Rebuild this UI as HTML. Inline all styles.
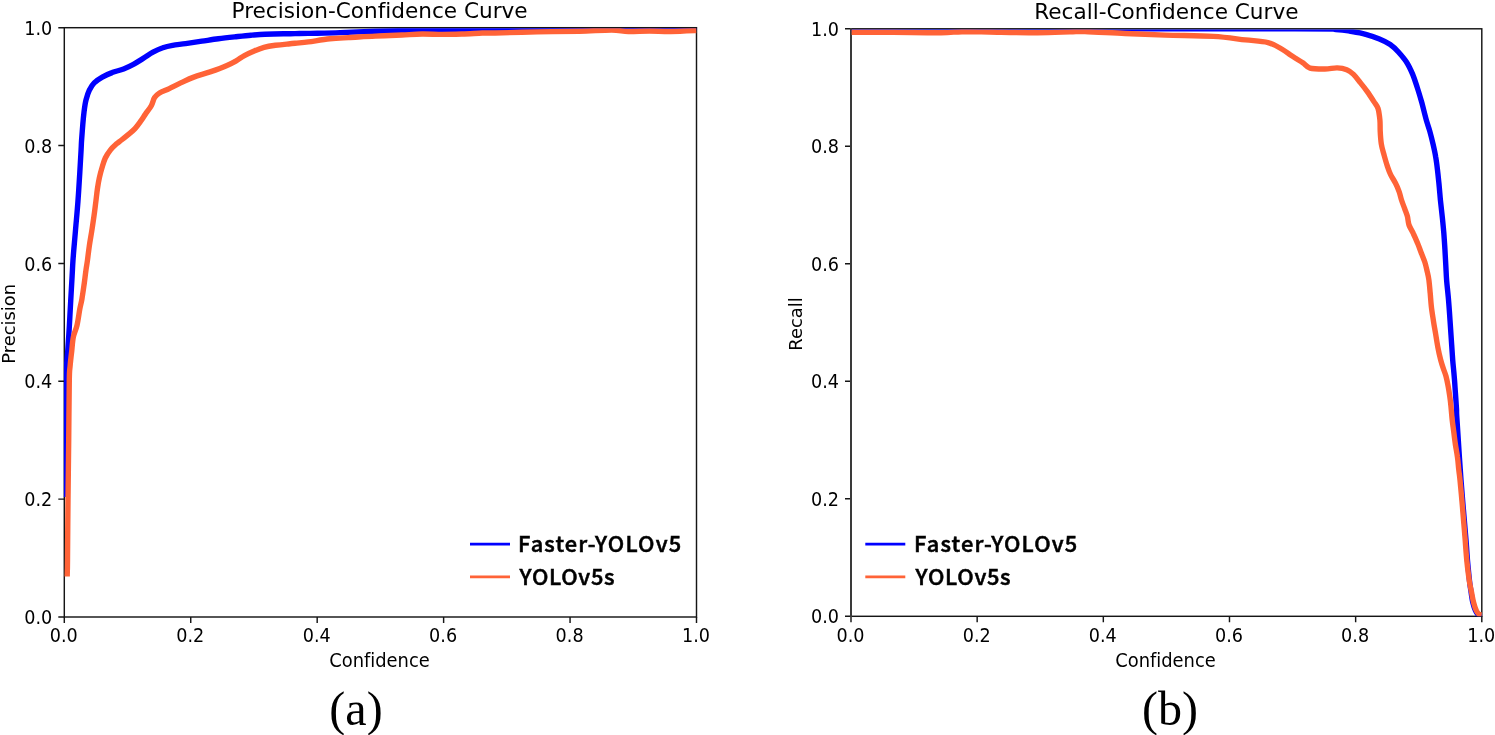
<!DOCTYPE html>
<html lang="en"><head><meta charset="utf-8"><title>Precision / Recall - Confidence curves</title>
<style>
html,body{margin:0;padding:0;background:#fff;}
body{width:1495px;height:735px;overflow:hidden;position:relative;}
svg{position:absolute;left:0;top:0;display:block;}
.mp{font-family:"DejaVu Sans","Liberation Sans",sans-serif;fill:#000;font-variant-ligatures:none;font-feature-settings:"liga" 0,"clig" 0;}
.tk{font-size:17.6px;}
.al{font-size:17.9px;}
.tt{font-size:21.6px;}
.lg{font-family:"Noto Sans CJK SC","Liberation Sans",sans-serif;font-weight:500;font-size:21.8px;letter-spacing:1.15px;fill:#000;stroke:#000;stroke-width:0.55px;paint-order:stroke;}
.cap{font-family:"Liberation Serif","DejaVu Serif",serif;font-size:48px;fill:#000;}
.curve{fill:none;stroke-width:5.4;stroke-linejoin:round;stroke-linecap:butt;}
</style></head><body>
<svg width="1495" height="735" viewBox="0 0 1495 735">
<rect width="1495" height="735" fill="#fff"/>
<defs><clipPath id="cpa"><rect x="63.9" y="28.3" width="632.6" height="588.7"/></clipPath></defs>
<g id="pa">
<path d="M64.30,617.0v6.0M64.3,617.00h-6.0M190.74,617.0v6.0M64.3,499.14h-6.0M317.18,617.0v6.0M64.3,381.28h-6.0M443.62,617.0v6.0M64.3,263.42h-6.0M570.06,617.0v6.0M64.3,145.56h-6.0M696.50,617.0v6.0M64.3,27.70h-6.0" stroke="#151515" stroke-width="1.44" fill="none"/>
<rect x="64.3" y="27.7" width="632.2" height="589.3" fill="none" stroke="#151515" stroke-width="1.44"/>
<g clip-path="url(#cpa)">
<path class="curve" stroke="#0000ff" d="M64.6,497.0C64.6,487.5 64.7,459.5 64.9,440.0C65.1,420.5 65.1,394.8 65.6,380.0C66.1,365.2 67.1,360.5 67.7,351.4C68.3,342.3 68.9,334.0 69.4,325.3C69.9,316.6 70.3,307.4 70.8,299.2C71.2,291.0 71.7,282.8 72.1,276.3C72.5,269.8 72.5,267.5 73.0,260.0C73.5,252.5 74.6,241.1 75.4,231.4C76.2,221.7 77.2,211.8 77.9,202.0C78.6,192.2 79.3,181.4 79.8,172.7C80.3,164.0 80.8,155.2 81.1,149.8C81.4,144.4 81.3,144.2 81.6,140.0C81.9,135.8 82.4,129.3 82.8,124.5C83.2,119.7 83.6,115.5 84.1,111.4C84.6,107.3 85.1,103.5 86.0,100.0C86.9,96.5 87.9,93.0 89.3,90.2C90.7,87.4 92.0,85.1 94.2,82.9C96.4,80.7 99.3,78.8 102.3,77.1C105.3,75.4 108.5,73.9 112.1,72.6C115.6,71.2 120.0,70.4 123.6,69.0C127.1,67.6 130.1,66.2 133.4,64.4C136.7,62.6 139.9,60.4 143.2,58.4C146.5,56.4 149.7,54.0 153.0,52.2C156.3,50.4 159.5,48.9 162.8,47.8C166.1,46.6 168.8,46.0 172.6,45.3C176.4,44.6 180.7,44.4 185.6,43.7C190.5,43.0 196.4,42.0 201.9,41.2C207.4,40.4 212.9,39.5 218.3,38.8C223.8,38.1 229.2,37.5 234.6,36.9C240.0,36.3 245.8,35.6 250.9,35.2C256.0,34.8 259.6,34.5 265.0,34.3C270.4,34.1 278.6,33.9 283.6,33.8C288.6,33.7 290.9,33.7 295.0,33.6C299.1,33.5 300.9,33.6 308.4,33.4C315.9,33.2 328.9,33.0 340.0,32.6C351.1,32.2 362.7,31.7 375.3,31.3C387.9,30.9 402.0,30.6 415.4,30.3C428.8,30.1 442.2,30.0 455.5,29.8C468.8,29.6 477.6,29.5 495.0,29.3C512.4,29.1 539.2,28.6 560.0,28.4C580.8,28.2 597.2,28.2 620.0,28.1C642.8,28.0 683.8,27.9 696.5,27.9"/>
<path class="curve" stroke="#ff6337" d="M67.2,576.5C67.2,573.8 67.4,572.8 67.5,560.0C67.6,547.2 67.8,520.0 68.0,500.0C68.2,480.0 68.5,460.0 68.7,440.0C68.9,420.0 69.1,392.3 69.3,380.0C69.5,367.7 69.7,370.9 70.1,366.1C70.5,361.3 71.1,356.3 71.7,351.4C72.2,346.5 72.5,341.0 73.4,336.7C74.3,332.4 75.9,329.9 77.0,325.3C78.1,320.7 79.0,313.4 79.8,309.0C80.6,304.6 81.2,303.3 81.9,299.2C82.6,295.1 83.4,289.4 84.1,284.5C84.8,279.6 85.4,273.9 86.0,269.8C86.6,265.7 87.0,263.9 87.5,260.0C88.0,256.1 88.6,250.9 89.3,246.1C90.0,241.3 90.9,236.3 91.7,231.4C92.5,226.5 93.2,221.6 93.9,216.7C94.6,211.8 95.2,206.6 95.8,202.0C96.4,197.4 96.8,193.1 97.4,189.0C98.0,184.9 98.6,181.1 99.4,177.6C100.2,174.1 101.0,171.1 102.0,167.8C103.0,164.5 103.9,161.0 105.3,158.0C106.7,155.0 108.7,152.1 110.5,149.8C112.3,147.5 114.4,145.7 116.2,144.1C118.0,142.5 119.5,141.6 121.5,140.0C123.5,138.4 126.2,136.2 128.5,134.3C130.8,132.4 133.0,130.8 135.0,128.6C137.0,126.4 138.9,123.7 140.7,121.2C142.5,118.8 143.8,116.5 145.6,113.9C147.4,111.3 149.8,108.4 151.3,105.7C152.8,103.0 153.2,99.7 154.6,97.6C156.0,95.5 157.1,94.5 159.5,93.0C161.9,91.5 165.8,90.3 169.3,88.6C172.8,86.9 176.6,84.8 180.7,82.9C184.8,81.0 188.9,78.9 193.8,77.1C198.7,75.3 204.7,73.8 210.1,71.9C215.5,70.0 222.1,67.6 226.4,65.7C230.8,63.9 233.2,62.5 236.2,60.8C239.2,59.1 241.4,57.2 244.4,55.6C247.4,54.0 250.9,52.4 254.2,51.0C257.5,49.6 260.5,48.4 264.0,47.4C267.5,46.4 271.6,45.8 275.4,45.3C279.2,44.8 283.5,44.4 286.8,44.1C290.1,43.8 291.4,43.7 295.0,43.3C298.6,42.9 302.6,42.6 308.4,41.9C314.2,41.1 323.1,39.5 329.8,38.8C336.5,38.1 340.9,38.0 348.5,37.6C356.1,37.2 366.4,36.5 375.3,36.1C384.2,35.7 394.2,35.4 402.0,35.0C409.8,34.6 415.3,34.1 422.0,34.0C428.7,33.9 435.5,34.4 442.2,34.4C448.9,34.4 455.5,34.2 462.2,34.0C468.9,33.8 476.8,33.2 482.3,33.0C487.8,32.8 485.9,33.2 495.0,33.0C504.1,32.8 523.0,32.2 537.0,31.9C551.0,31.6 566.9,31.5 579.3,31.2C591.7,30.9 603.4,30.1 611.6,30.1C619.8,30.2 622.1,31.4 628.4,31.5C634.7,31.6 642.5,31.0 649.5,31.0C656.5,31.0 662.8,31.6 670.6,31.5C678.4,31.4 692.2,30.7 696.5,30.5"/>
</g>
<text class="mp tk" transform="translate(63.8,641.8) scale(1,1.06)" text-anchor="middle">0.0</text>
<text class="mp tk" transform="translate(52.3,624.1) scale(1,1.06)" text-anchor="end">0.0</text>
<text class="mp tk" transform="translate(190.2,641.8) scale(1,1.06)" text-anchor="middle">0.2</text>
<text class="mp tk" transform="translate(52.3,506.2) scale(1,1.06)" text-anchor="end">0.2</text>
<text class="mp tk" transform="translate(316.7,641.8) scale(1,1.06)" text-anchor="middle">0.4</text>
<text class="mp tk" transform="translate(52.3,388.4) scale(1,1.06)" text-anchor="end">0.4</text>
<text class="mp tk" transform="translate(443.1,641.8) scale(1,1.06)" text-anchor="middle">0.6</text>
<text class="mp tk" transform="translate(52.3,270.5) scale(1,1.06)" text-anchor="end">0.6</text>
<text class="mp tk" transform="translate(569.6,641.8) scale(1,1.06)" text-anchor="middle">0.8</text>
<text class="mp tk" transform="translate(52.3,152.7) scale(1,1.06)" text-anchor="end">0.8</text>
<text class="mp tk" transform="translate(696.0,641.8) scale(1,1.06)" text-anchor="middle">1.0</text>
<text class="mp tk" transform="translate(52.3,34.8) scale(1,1.06)" text-anchor="end">1.0</text>
<text class="mp al" transform="translate(379.5,666.7) scale(1,1.04)" text-anchor="middle">Confidence</text>
<text class="mp al" transform="translate(14.7,323.9) rotate(-90)" text-anchor="middle">Precision</text>
<text class="mp tt" x="379.6" y="17.9" text-anchor="middle">Precision-Confidence Curve</text>
<path d="M470,544.2H510" stroke="#0000ff" stroke-width="2.7"/>
<path d="M470,576.9H510" stroke="#ff6337" stroke-width="2.7"/>
<text class="lg" x="518.0" y="552.2">Faster-YOLOv5</text>
<text class="lg" x="519.5" y="584.9" style="letter-spacing:0.7px">YOLOv5s</text>
</g>
<defs><clipPath id="cpb"><rect x="851.6" y="29.4" width="630.2" height="586.9"/></clipPath></defs>
<g id="pb">
<path d="M851.00,616.3v6.0M851.0,616.30h-6.0M977.16,616.3v6.0M851.0,498.80h-6.0M1103.32,616.3v6.0M851.0,381.30h-6.0M1229.48,616.3v6.0M851.0,263.80h-6.0M1355.64,616.3v6.0M851.0,146.30h-6.0M1481.80,616.3v6.0M851.0,28.80h-6.0" stroke="#151515" stroke-width="1.44" fill="none"/>
<rect x="851.0" y="28.8" width="630.8" height="587.5" fill="none" stroke="#151515" stroke-width="1.44"/>
<path d="M851.0,28.1V617.0" stroke="#3a3a3a" stroke-width="2" fill="none"/>
<g clip-path="url(#cpb)">
<path class="curve" stroke="#0000ff" d="M851.0,28.9C925.0,28.9 1214.2,28.8 1295.0,28.9C1375.8,29.0 1326.3,29.1 1335.8,29.5C1345.3,29.9 1347.1,30.8 1352.1,31.6C1357.1,32.4 1361.2,33.1 1365.7,34.3C1370.2,35.5 1375.3,37.3 1379.4,39.0C1383.5,40.7 1387.0,42.3 1390.2,44.5C1393.4,46.7 1395.7,49.0 1398.4,52.0C1401.1,55.0 1404.2,58.5 1406.6,62.2C1409.0,65.9 1410.9,70.1 1412.7,74.4C1414.5,78.7 1415.9,83.5 1417.4,88.0C1418.9,92.5 1420.0,96.3 1421.5,101.6C1423.0,106.9 1424.9,115.1 1426.3,120.0C1427.7,124.9 1428.6,126.9 1429.7,130.9C1430.8,134.9 1432.0,139.6 1433.0,143.9C1434.0,148.2 1435.0,152.6 1435.7,157.0C1436.5,161.4 1437.0,165.8 1437.5,170.1C1438.0,174.4 1438.4,178.1 1438.9,183.1C1439.4,188.1 1439.9,194.5 1440.4,200.0C1441.0,205.5 1441.6,210.9 1442.2,216.3C1442.8,221.8 1443.3,227.2 1443.8,232.7C1444.2,238.1 1444.6,243.6 1444.9,249.0C1445.2,254.4 1445.5,260.1 1445.8,265.3C1446.1,270.5 1446.2,274.8 1446.6,280.0C1447.0,285.2 1447.7,290.9 1448.2,296.3C1448.7,301.8 1449.1,307.2 1449.5,312.7C1449.9,318.1 1450.2,323.6 1450.6,329.0C1451.0,334.4 1451.3,340.1 1451.7,345.3C1452.1,350.5 1452.3,354.8 1452.7,360.0C1453.1,365.2 1453.8,370.9 1454.2,376.3C1454.7,381.8 1455.0,387.2 1455.4,392.7C1455.8,398.1 1456.2,404.4 1456.5,409.0C1456.8,413.6 1456.2,408.2 1457.0,420.0C1457.8,431.8 1459.5,460.0 1461.0,480.0C1462.5,500.0 1464.9,526.6 1466.0,540.0C1467.1,553.4 1466.9,553.6 1467.5,560.4C1468.1,567.2 1469.0,575.9 1469.5,580.8C1470.0,585.7 1470.2,586.4 1470.8,590.0C1471.3,593.6 1472.0,599.0 1472.8,602.5C1473.6,606.0 1474.6,608.7 1475.5,610.7C1476.4,612.7 1477.0,613.6 1478.0,614.5C1479.0,615.4 1481.2,615.8 1481.8,616.0"/>
<path class="curve" stroke="#ff6337" d="M851.0,32.2C858.0,32.2 878.0,32.2 893.0,32.3C908.0,32.4 929.5,32.8 941.0,32.7C952.5,32.6 953.9,31.8 962.0,31.7C970.1,31.6 976.9,31.8 989.5,32.0C1002.1,32.2 1024.2,32.7 1037.6,32.7C1051.0,32.7 1061.9,32.1 1069.8,31.9C1077.7,31.7 1075.8,31.2 1085.0,31.5C1094.2,31.8 1111.7,32.9 1125.1,33.5C1138.5,34.1 1150.6,34.6 1165.3,35.1C1180.0,35.6 1200.0,35.6 1213.4,36.4C1226.8,37.2 1236.4,38.9 1245.5,39.9C1254.6,40.9 1261.8,41.0 1268.0,42.6C1274.2,44.2 1278.8,47.4 1282.5,49.5C1286.2,51.6 1288.2,53.6 1290.5,55.1C1292.8,56.6 1293.9,57.2 1296.0,58.5C1298.1,59.8 1300.9,61.4 1303.2,63.0C1305.5,64.6 1306.4,67.1 1310.0,68.1C1313.6,69.1 1320.4,69.0 1324.9,69.0C1329.4,69.0 1333.6,67.8 1337.2,67.9C1340.8,68.0 1344.0,68.6 1346.7,69.7C1349.4,70.8 1351.2,72.2 1353.5,74.4C1355.8,76.6 1358.0,79.8 1360.3,82.6C1362.6,85.4 1364.8,88.2 1367.1,91.4C1369.4,94.6 1372.1,98.8 1373.9,101.6C1375.7,104.4 1377.0,105.3 1378.0,108.4C1379.0,111.5 1379.5,116.2 1379.9,120.0C1380.3,123.8 1380.0,126.9 1380.2,130.9C1380.4,134.9 1380.7,139.9 1381.3,143.9C1381.9,147.9 1383.0,151.2 1384.0,154.8C1385.0,158.4 1386.1,162.4 1387.2,165.7C1388.3,169.0 1389.1,171.5 1390.5,174.4C1391.9,177.3 1394.0,180.2 1395.4,183.1C1396.9,186.0 1398.2,189.0 1399.2,191.8C1400.2,194.6 1400.6,197.2 1401.5,200.0C1402.4,202.8 1403.7,206.0 1404.7,208.7C1405.7,211.4 1406.7,213.6 1407.4,216.3C1408.1,219.0 1408.0,222.1 1409.0,225.0C1410.0,227.9 1412.0,230.6 1413.4,233.7C1414.9,236.8 1416.4,240.4 1417.7,243.5C1419.0,246.6 1419.8,249.1 1421.0,252.2C1422.2,255.3 1423.8,258.9 1424.8,262.0C1425.8,265.1 1426.3,267.7 1427.0,270.7C1427.7,273.7 1428.4,276.3 1428.9,280.0C1429.4,283.7 1429.8,288.8 1430.2,293.1C1430.6,297.5 1430.8,301.4 1431.3,306.1C1431.8,310.8 1432.8,316.7 1433.5,321.4C1434.2,326.1 1435.0,330.0 1435.7,334.4C1436.4,338.8 1437.1,343.2 1437.9,347.5C1438.7,351.8 1439.8,356.6 1440.7,360.0C1441.6,363.4 1442.3,365.5 1443.2,368.2C1444.1,370.9 1445.2,373.3 1446.0,376.3C1446.8,379.3 1447.5,382.8 1448.1,386.1C1448.7,389.4 1449.2,392.6 1449.7,395.9C1450.2,399.2 1450.5,401.7 1450.9,405.7C1451.3,409.7 1451.7,415.6 1452.2,420.0C1452.7,424.4 1453.3,428.1 1453.8,432.2C1454.3,436.3 1454.8,440.4 1455.4,444.5C1456.0,448.6 1456.9,452.6 1457.4,456.7C1458.0,460.8 1458.3,465.1 1458.7,469.0C1459.1,472.9 1459.5,474.8 1460.0,480.0C1460.5,485.2 1461.3,493.6 1461.9,500.4C1462.5,507.2 1463.0,514.2 1463.6,520.8C1464.1,527.4 1464.7,533.4 1465.2,540.0C1465.7,546.6 1466.1,553.6 1466.8,560.4C1467.5,567.2 1468.5,575.5 1469.3,580.8C1470.1,586.1 1470.8,588.4 1471.5,592.0C1472.2,595.6 1472.8,599.4 1473.6,602.5C1474.4,605.6 1475.4,608.8 1476.3,610.7C1477.2,612.6 1477.9,613.4 1478.8,614.1C1479.7,614.8 1481.3,614.8 1481.8,614.9"/>
</g>
<text class="mp tk" transform="translate(850.5,641.8) scale(1,1.06)" text-anchor="middle">0.0</text>
<text class="mp tk" transform="translate(839.0,623.4) scale(1,1.06)" text-anchor="end">0.0</text>
<text class="mp tk" transform="translate(976.7,641.8) scale(1,1.06)" text-anchor="middle">0.2</text>
<text class="mp tk" transform="translate(839.0,505.9) scale(1,1.06)" text-anchor="end">0.2</text>
<text class="mp tk" transform="translate(1102.8,641.8) scale(1,1.06)" text-anchor="middle">0.4</text>
<text class="mp tk" transform="translate(839.0,388.4) scale(1,1.06)" text-anchor="end">0.4</text>
<text class="mp tk" transform="translate(1229.0,641.8) scale(1,1.06)" text-anchor="middle">0.6</text>
<text class="mp tk" transform="translate(839.0,270.9) scale(1,1.06)" text-anchor="end">0.6</text>
<text class="mp tk" transform="translate(1355.1,641.8) scale(1,1.06)" text-anchor="middle">0.8</text>
<text class="mp tk" transform="translate(839.0,153.4) scale(1,1.06)" text-anchor="end">0.8</text>
<text class="mp tk" transform="translate(1481.3,641.8) scale(1,1.06)" text-anchor="middle">1.0</text>
<text class="mp tk" transform="translate(839.0,35.9) scale(1,1.06)" text-anchor="end">1.0</text>
<text class="mp al" transform="translate(1165.5,666.7) scale(1,1.04)" text-anchor="middle">Confidence</text>
<text class="mp al" transform="translate(802.3,324.0) rotate(-90)" text-anchor="middle">Recall</text>
<text class="mp tt" x="1166.4" y="18.7" text-anchor="middle">Recall-Confidence Curve</text>
<path d="M865.3,544.2H905.3" stroke="#0000ff" stroke-width="2.7"/>
<path d="M865.3,576.9H905.3" stroke="#ff6337" stroke-width="2.7"/>
<text class="lg" x="914.1" y="552.2">Faster-YOLOv5</text>
<text class="lg" x="915.6" y="584.9" style="letter-spacing:0.7px">YOLOv5s</text>
</g>
<text class="cap" x="356.0" y="724.5" text-anchor="middle">(a)</text>
<text class="cap" x="1170.1" y="724.5" text-anchor="middle">(b)</text>
</svg></body></html>
